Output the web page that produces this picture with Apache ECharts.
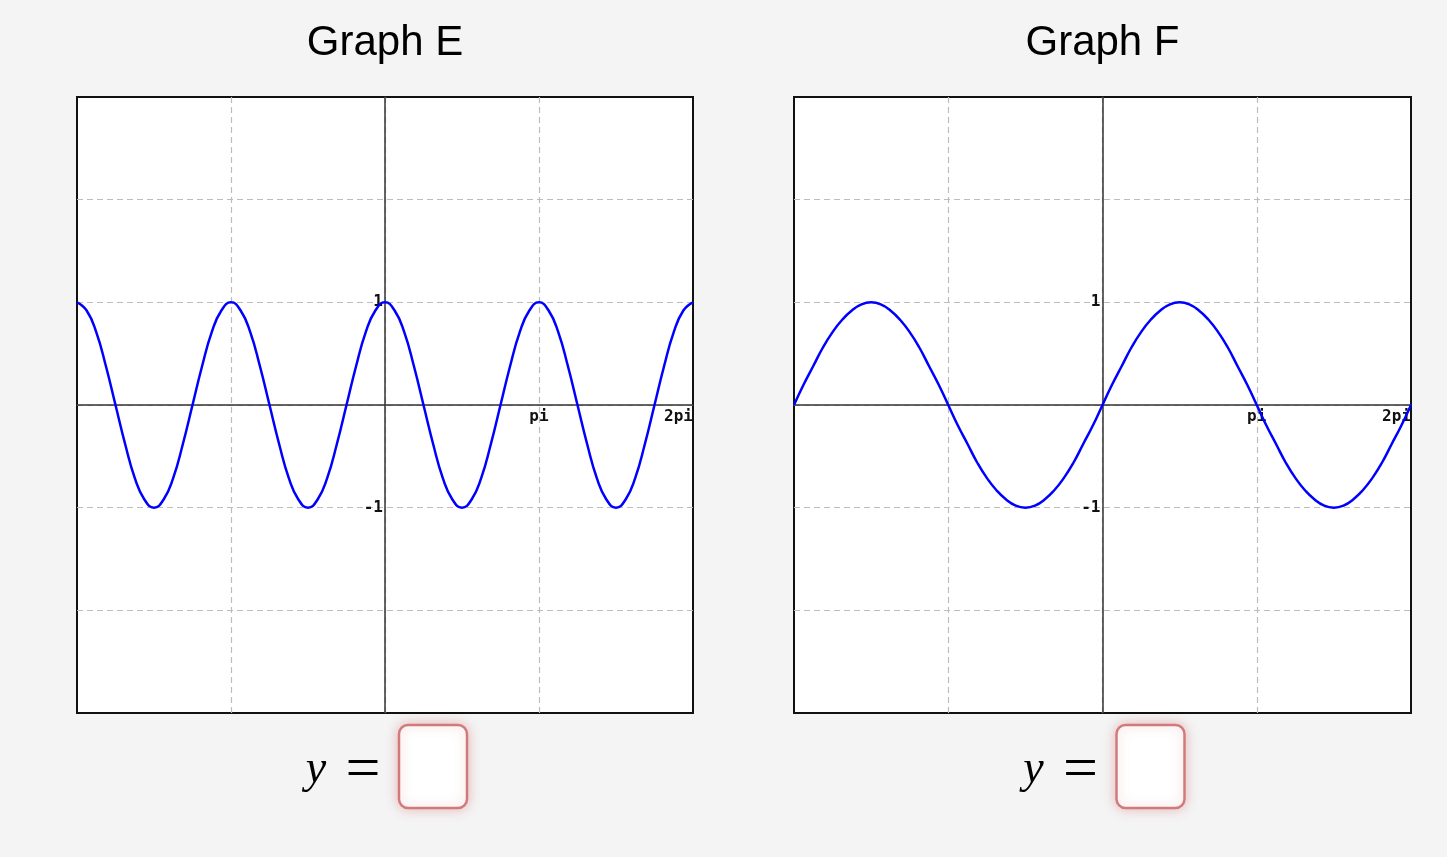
<!DOCTYPE html>
<html>
<head>
<meta charset="utf-8">
<script src="https://cdn.jsdelivr.net/npm/echarts@6/dist/echarts.min.js"></script>
<style>
html,body{margin:0;padding:0;background:#f4f4f4;}
#c{width:1447px;height:857px;}
</style>
</head>
<body>
<div id="c"></div>
<script>
// x positions in units of pi
const xPi = [
  -2, -1.9375, -1.875, -1.8125, -1.75, -1.6875, -1.625, -1.5625,
  -1.5, -1.4375, -1.375, -1.3125, -1.25, -1.1875, -1.125, -1.0625,
  -1, -0.9375, -0.875, -0.8125, -0.75, -0.6875, -0.625, -0.5625,
  -0.5, -0.4375, -0.375, -0.3125, -0.25, -0.1875, -0.125, -0.0625,
  0, 0.0625, 0.125, 0.1875, 0.25, 0.3125, 0.375, 0.4375,
  0.5, 0.5625, 0.625, 0.6875, 0.75, 0.8125, 0.875, 0.9375,
  1, 1.0625, 1.125, 1.1875, 1.25, 1.3125, 1.375, 1.4375,
  1.5, 1.5625, 1.625, 1.6875, 1.75, 1.8125, 1.875, 1.9375,
  2
];
// Graph E curve values
const yE = [
  1, 0.92, 0.71, 0.38, 0, -0.38, -0.71, -0.92, -1, -0.92, -0.71, -0.38, 0, 0.38, 0.71, 0.92,
  1, 0.92, 0.71, 0.38, 0, -0.38, -0.71, -0.92, -1, -0.92, -0.71, -0.38, 0, 0.38, 0.71, 0.92,
  1, 0.92, 0.71, 0.38, 0, -0.38, -0.71, -0.92, -1, -0.92, -0.71, -0.38, 0, 0.38, 0.71, 0.92,
  1, 0.92, 0.71, 0.38, 0, -0.38, -0.71, -0.92, -1, -0.92, -0.71, -0.38, 0, 0.38, 0.71, 0.92,
  1
];
// Graph F curve values
const yF = [
  0, 0.2, 0.38, 0.56, 0.71, 0.83, 0.92, 0.98, 1, 0.98, 0.92, 0.83, 0.71, 0.56, 0.38, 0.2,
  0, -0.2, -0.38, -0.56, -0.71, -0.83, -0.92, -0.98, -1, -0.98, -0.92, -0.83, -0.71, -0.56, -0.38, -0.2,
  0, 0.2, 0.38, 0.56, 0.71, 0.83, 0.92, 0.98, 1, 0.98, 0.92, 0.83, 0.71, 0.56, 0.38, 0.2,
  0, -0.2, -0.38, -0.56, -0.71, -0.83, -0.92, -0.98, -1, -0.98, -0.92, -0.83, -0.71, -0.56, -0.38, -0.2,
  0
];
const titles = ['Graph E', 'Graph F'];
const xTickLabels = { '1': 'pi', '2': '2pi' };
const yTickLabels = { '1': '1', '-1': '-1' };
const answerPrefix = 'y';

const grids = [
  { left: 77, top: 97, width: 616, height: 616 },
  { left: 794, top: 97, width: 617, height: 616 }
];
const curves = [yE, yF];

const chart = echarts.init(document.getElementById('c'), null, { renderer: 'canvas' });

const labelFont = { fontFamily: 'DejaVu Sans Mono', fontWeight: 'bold', fontSize: 16, color: '#111' };
const splitStyle = { color: '#bdbdbd', type: [6, 4], width: 1.2 };

const option = {
  backgroundColor: '#f4f4f4',
  animation: false,
  grid: grids.map(g => Object.assign({
    show: true, backgroundColor: '#ffffff', borderColor: '#111', borderWidth: 2, containLabel: false
  }, g)),
  xAxis: grids.map((g, i) => ({
    type: 'value', gridIndex: i, min: -2, max: 2, interval: 1,
    position: 'bottom', offset: -g.height / 2,
    axisLine: { show: true, onZero: false, lineStyle: { color: '#333', width: 1.5 } },
    axisTick: { show: false },
    splitLine: { show: true, showMinLine: false, showMaxLine: false, lineStyle: splitStyle },
    axisLabel: Object.assign({
      margin: 4, showMaxLabel: true, showMinLabel: true, alignMaxLabel: 'right',
      formatter: v => xTickLabels[String(v)] || ''
    }, labelFont)
  })),
  yAxis: grids.map((g, i) => ({
    type: 'value', gridIndex: i, min: -3, max: 3, interval: 1,
    position: 'left', offset: -g.width / 2,
    axisLine: { show: true, onZero: false, lineStyle: { color: '#333', width: 1.5 } },
    axisTick: { show: false },
    splitLine: { show: true, showMinLine: false, showMaxLine: false, lineStyle: splitStyle },
    axisLabel: Object.assign({
      margin: 2, padding: [3, 0, 0, 0],
      formatter: v => yTickLabels[String(v)] || ''
    }, labelFont)
  })),
  series: curves.map((ys, i) => ({
    type: 'line', xAxisIndex: i, yAxisIndex: i,
    data: xPi.map((x, k) => [x, ys[k]]),
    showSymbol: false, smooth: true, clip: true, z: 5,
    lineStyle: { color: '#0000ff', width: 2.5 }
  })),
  graphic: []
};

grids.forEach((g, i) => {
  const cx = g.left + g.width / 2;
  option.graphic.push({
    type: 'text', x: cx, y: 43,
    style: { text: titles[i], font: '42px "Liberation Sans", Arial, sans-serif', fill: '#000', align: 'center', verticalAlign: 'middle' }
  });
  option.graphic.push({
    type: 'text', x: cx - 69, y: 770,
    style: { text: answerPrefix, font: 'italic 46px "Liberation Serif", serif', fill: '#000', align: 'center', verticalAlign: 'middle' }
  });
  option.graphic.push({
    type: 'text', x: cx - 22, y: 772,
    style: { text: '=', font: '62px "Liberation Serif", serif', fill: '#000', align: 'center', verticalAlign: 'middle' }
  });
  option.graphic.push({
    type: 'rect', shape: { x: cx + 14, y: 725, width: 68, height: 83, r: 9 },
    style: { fill: '#ffffff', stroke: '#d27a7a', lineWidth: 2.5, shadowBlur: 12, shadowColor: 'rgba(210,90,90,0.35)' }
  });
});

chart.setOption(option);
</script>
</body>
</html>
